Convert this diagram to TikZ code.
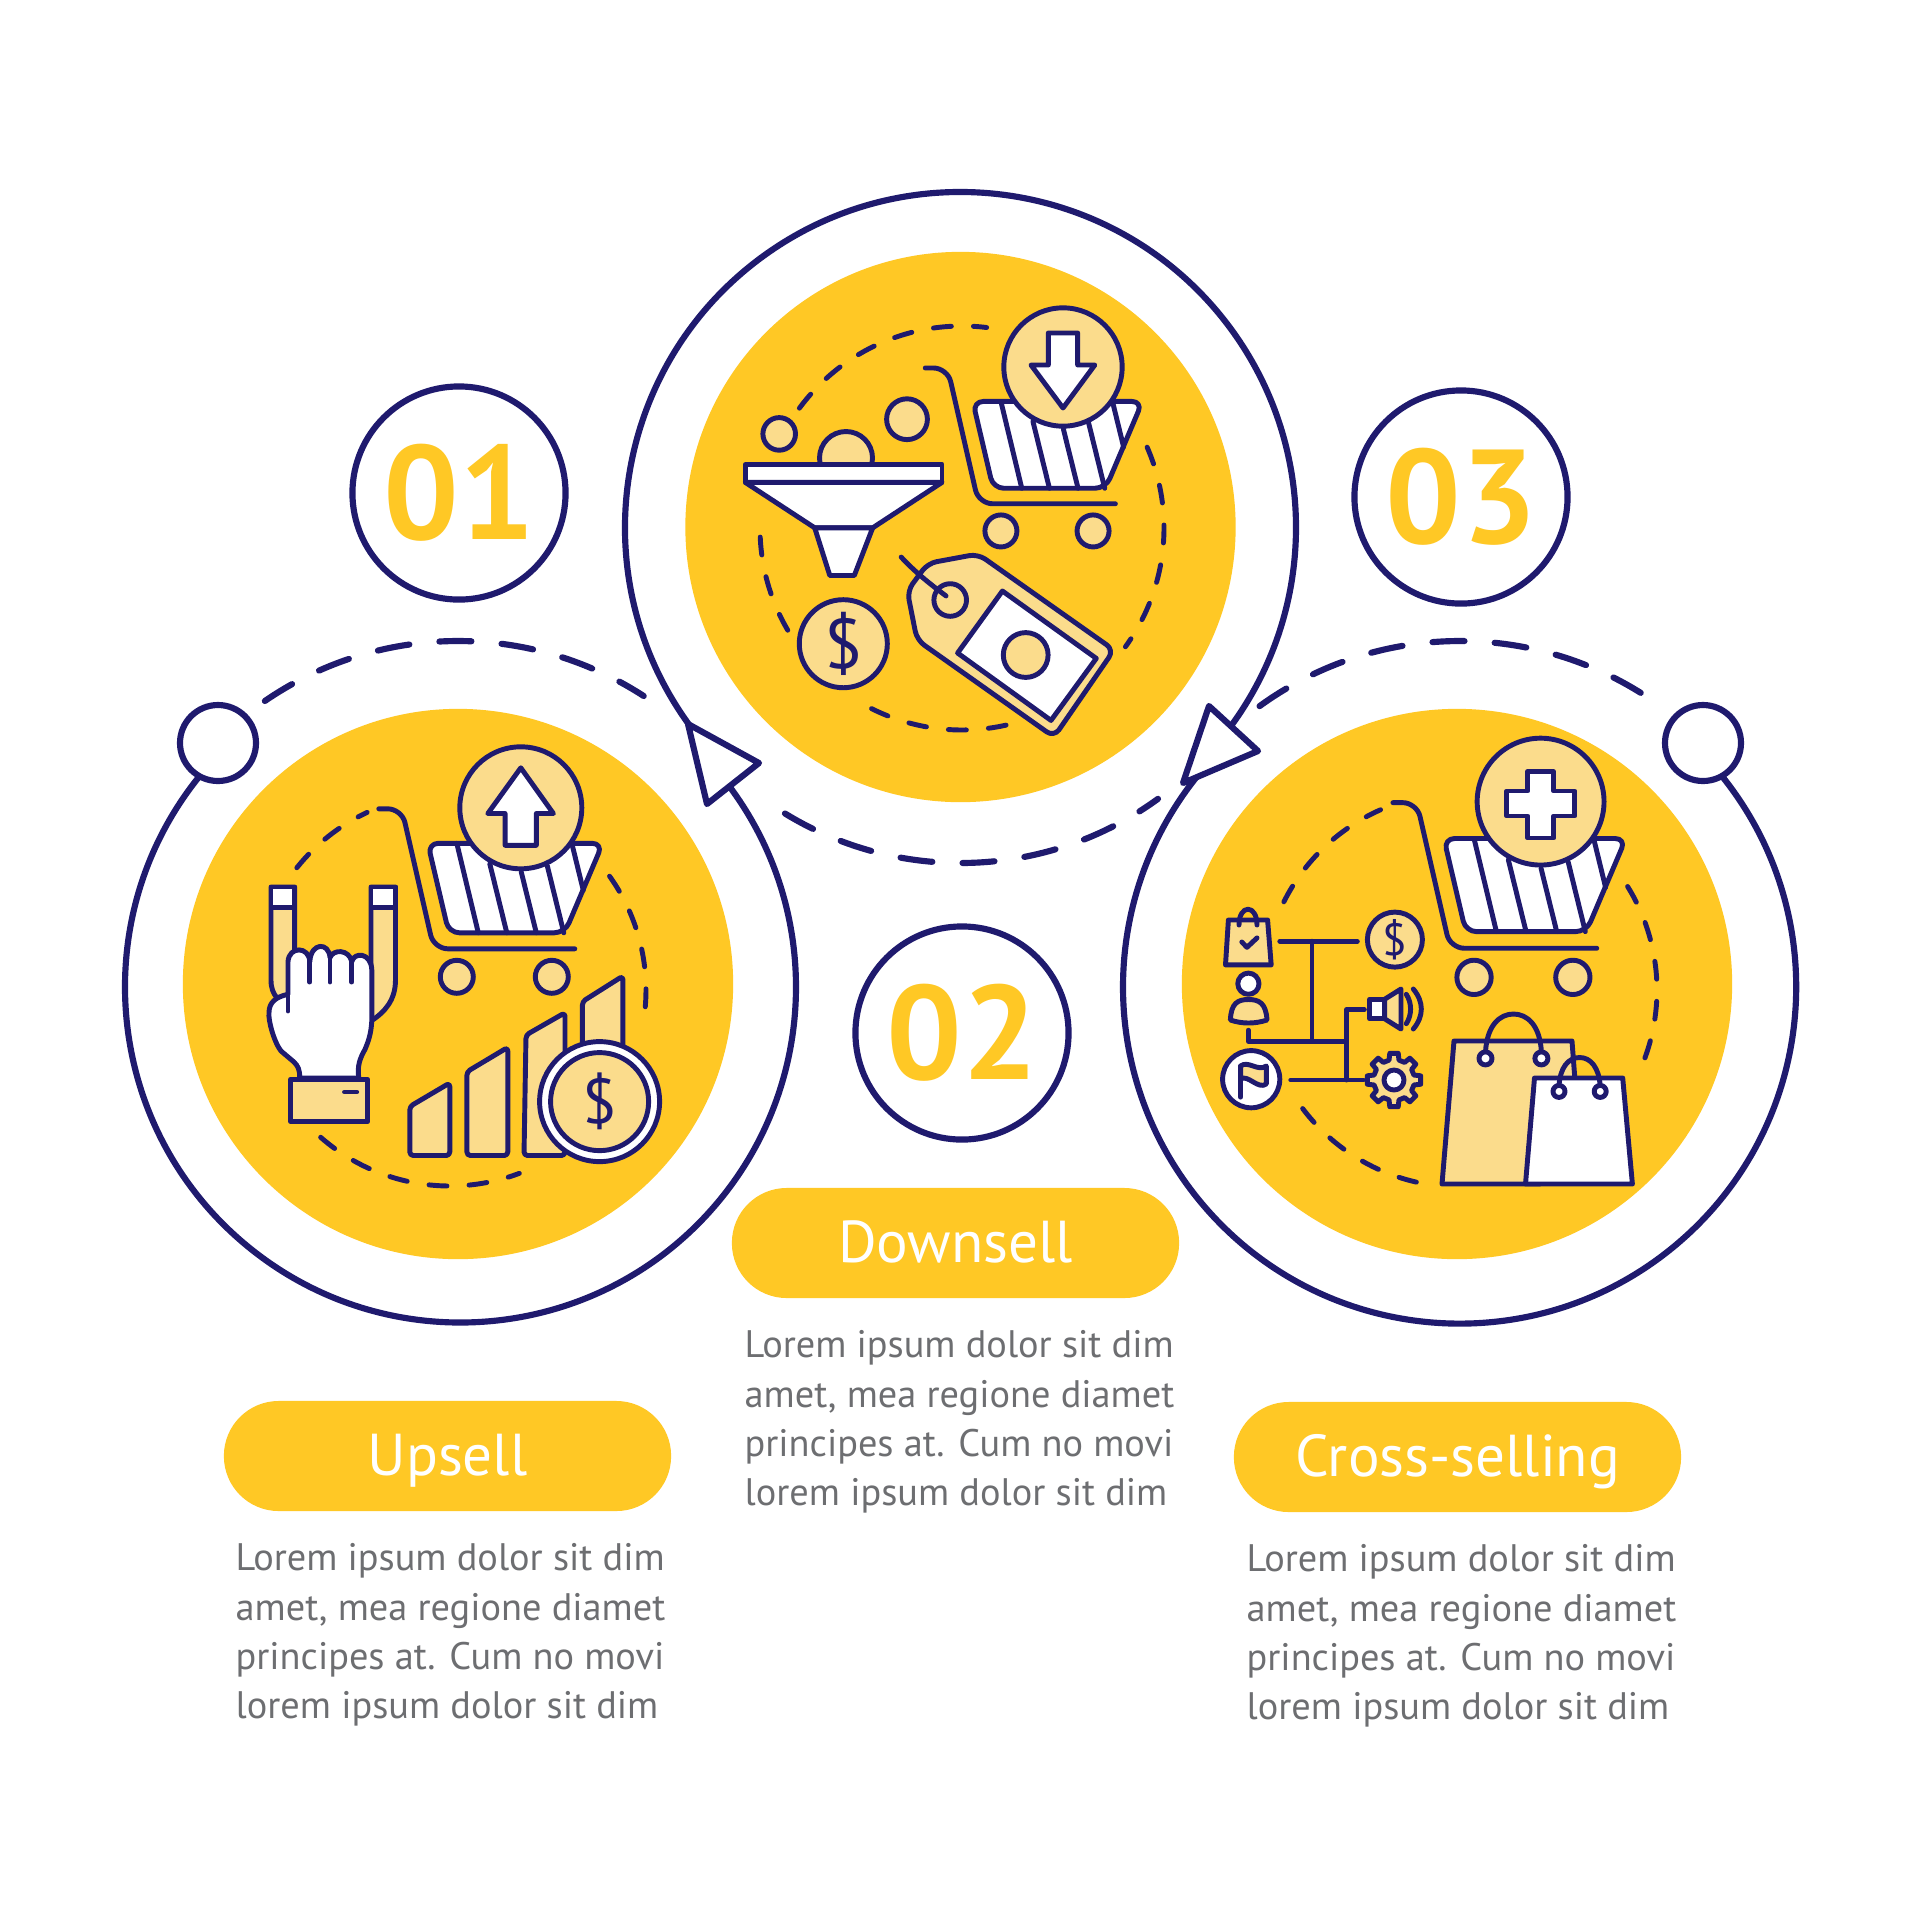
\documentclass[tikz,border=0pt]{standalone}
\usepackage{fontspec}
\setmainfont{PT Sans}
\definecolor{inkblue}{HTML}{1F1A6E}
\definecolor{sunyellow}{HTML}{FFC825}
\definecolor{paleyellow}{HTML}{FBDC8C}
\definecolor{bodygray}{HTML}{6D6E71}
\tikzset{
  ring/.style={draw=inkblue,line width=1.75pt,line cap=round,line join=round},
  ringdash/.style={ring,dash pattern=on 9.1pt off 8.6pt},
  ln/.style={draw=inkblue,line width=1.4pt,line cap=round,line join=round},
  lndash/.style={ln,dash pattern=on 5.1pt off 6.3pt},
  pale/.style={ln,fill=paleyellow},
  blank/.style={ln,fill=white},
  disk/.style={circle,fill=sunyellow,inner sep=0pt,minimum size=5.5cm},
  numring/.style={circle,draw=inkblue,fill=white,line width=1.75pt,inner sep=0pt,minimum size=2.13cm,
    text=sunyellow,font=\bfseries\fontsize{38}{38}\selectfont},
  pill/.style={rectangle,rounded corners=15.6pt,fill=sunyellow,minimum width=4.47cm,minimum height=1.1cm,
    inner sep=0pt,text=white,text height=10.8pt,text depth=0pt,font=\fontsize{16.8}{16.8}\selectfont},
  blurb/.style={anchor=north west,inner sep=0pt,align=left,text=bodygray,font=\fontsize{10.9}{14}\selectfont},
  coin/.style={circle,draw=inkblue,fill=paleyellow,line width=1.4pt,inner sep=0pt,text=inkblue},
}
\newcommand{\carticon}[3]{%
\begin{scope}[shift={(#1,#2)},scale=#3]
\draw[ln,rounded corners=4pt] (-142,1) -- (-119,1) -- (-87,141) -- (54,141);
\draw[blank,rounded corners=3pt] (-93,35.5) -- (-72,125) -- (44,125) -- (82,35.5) -- cycle;
\draw[ln] (-64,35.5) -- (-42.5,125) (-31,56) -- (-14,125) (0.4,64) -- (15.5,125) (26.5,58) -- (43,125) (51.5,37.5) -- (62.5,82.5);
\draw[pale] (-64,169) circle (16.5) (31,169) circle (16.5);
\draw[pale] (0,0) circle (61);
\end{scope}}
\begin{document}
\begin{tikzpicture}[x=0.01cm,y=-0.01cm]
\fill[white] (0,0) rectangle (1920,1920);
\useasboundingbox (0,0) rectangle (1920,1920);
% discs
\node[disk] (D1) at (458,984) {};
\node[disk] (D2) at (960.5,527) {};
\node[disk] (D3) at (1457,984) {};
% big rings
\draw[ring] (460.5,987) ++(220:335.5) arc[start angle=220,end angle=-38,radius=335.5];
\draw[ring] (960.5,527.5) ++(144:335.5) arc[start angle=144,end angle=396,radius=335.5];
\draw[ring] (1459.6,987) ++(-40:336.6) arc[start angle=-40,end angle=220,radius=336.6];
\draw[ringdash] (458,982) ++(-124.5:341) arc[start angle=-124.5,end angle=-57,radius=341];
\draw[ringdash] (960.5,527) ++(121.5:336) arc[start angle=121.5,end angle=54,radius=336];
\draw[ringdash] (1460,982) ++(234:341) arc[start angle=234,end angle=302,radius=341];
\draw[ring,fill=white] (688,724) -- (759,763) -- (707,804) -- cycle;
\draw[ring,fill=white] (1209,706) -- (1258,751) -- (1183,783) -- cycle;
\draw[ring,fill=white] (218,743) circle (38);
\draw[ring,fill=white] (1703,743) circle (38);
% numbers
\node[numring] (N1) at (459,493) {01};
\node[numring] (N2) at (962,1033) {02};
\node[numring] (N3) at (1461,497) {03};
% titles
\node[pill] (P1) at (447.5,1456) {Upsell};
\node[pill] (P2) at (955.5,1243) {Downsell};
\node[pill] (P3) at (1457.5,1457) {Cross-selling};
\node[blurb] (T1) at (235,1543) {Lorem ipsum dolor sit dim\\amet, mea regione diamet\\principes at. Cum no movi\\lorem ipsum dolor sit dim};
\node[blurb] (T2) at (744,1330) {Lorem ipsum dolor sit dim\\amet, mea regione diamet\\principes at. Cum no movi\\lorem ipsum dolor sit dim};
\node[blurb] (T3) at (1246,1544) {Lorem ipsum dolor sit dim\\amet, mea regione diamet\\principes at. Cum no movi\\lorem ipsum dolor sit dim};
% first icon
\draw[lndash] (450,990) ++(218.6:196) arc[start angle=218.6,end angle=245,radius=196];
\draw[lndash] (450,990) ++(-35.5:196) arc[start angle=-35.5,end angle=8.4,radius=196];
\draw[lndash] (450,990) ++(131.3:196) arc[start angle=131.3,end angle=69.3,radius=196];
\carticon{520.8}{807.8}{1}
\draw[blank] (520.8,767.8) -- (553.4,813.5) -- (536.3,813.5) -- (536.3,845.3) -- (505.1,845.3) -- (505.1,813.5) -- (487.8,813.5) -- cycle;
\draw[pale] (271,887) -- (271,980) .. controls (271,988) and (273,993) .. (277,998) -- (294.7,998) -- (294.7,887) -- cycle;
\draw[pale] (371,887) -- (395.5,887) -- (395.5,980) .. controls (395.5,1000) and (385,1012) .. (371,1021) -- cycle;
\draw[blank] (271,887) rectangle (294.7,907.8) (371,887) rectangle (395.5,907.8);
\draw[blank] (299.6,1078) .. controls (300,1070) and (298,1066) .. (294,1062) -- (281,1051) .. controls (274,1042) and (268,1020) .. (269,1012.7)
  .. controls (269,1003) and (275,997) .. (288,994.3) -- (288,961.6) .. controls (289,946) and (309,946) .. (309.8,961.6)
  .. controls (311,942) and (329,942) .. (330,957.6) .. controls (333,949) and (349,949) .. (351.8,961.6)
  .. controls (354,952) and (371,952) .. (371.8,969.8) -- (371.8,1020.8) .. controls (371,1035) and (368,1042) .. (365,1049.4)
  .. controls (360,1058) and (357,1066) .. (358.8,1078) -- cycle;
\draw[ln] (309.8,961.6) -- (309.8,982) (330,957.6) -- (330,982) (351.8,961.6) -- (351.8,982) (288,994.3) -- (288,1011);
\draw[pale] (290.6,1079.2) rectangle (367.8,1121.6);
\draw[ln] (344.5,1092) -- (356.7,1092);
\draw[pale,rounded corners=1pt] (409.8,1106.5) -- (449.8,1082.9) -- (449.8,1155.5) -- (409.8,1155.5) -- cycle;
\draw[pale,rounded corners=1pt] (466.9,1071.8) -- (507.8,1047.3) -- (507.8,1155.5) -- (466.9,1155.5) -- cycle;
\draw[pale,rounded corners=1pt] (526,1035) -- (565,1012.7) -- (565,1155.5) -- (524,1155.5) -- cycle;
\draw[pale,rounded corners=1pt] (582.4,1047) -- (582.4,1001.6) -- (622.9,976) -- (622.9,1047);
\draw[blank] (599.6,1101.6) circle (60);
\node[coin,minimum size=0.98cm,font=\fontsize{18}{18}\selectfont] (C1) at (599.6,1101.6) {\$};
% second icon
\draw[lndash] (962,528) ++(216.4:202) arc[start angle=216.4,end angle=277,radius=202];
\draw[lndash] (962,528) ++(-23.6:202) arc[start angle=-23.6,end angle=36,radius=202];
\draw[lndash] (962,528) ++(77.4:202) arc[start angle=77.4,end angle=121.5,radius=202];
\draw[lndash] (962,528) ++(149.6:202) arc[start angle=149.6,end angle=180.4,radius=202];
\carticon{1063}{367}{0.97}
\draw[blank] (1048.3,333) -- (1077.7,333) -- (1077.7,365) -- (1094.8,365) -- (1063,408) -- (1031,365) -- (1048.3,365) -- cycle;
\draw[pale] (779.2,433.9) circle (16.3);
\draw[pale] (907,419.2) circle (20.4);
\draw[pale] (846,458) circle (26.5);
\draw[blank] (745.3,464.5) rectangle (942,482.4);
\draw[blank] (745.3,482.4) -- (942,482.4) -- (872.7,527.8) -- (814.7,527.8) -- cycle;
\draw[blank] (814.7,527.8) -- (872.7,527.8) -- (854.3,575.5) -- (829.8,575.5) -- cycle;
\node[coin,minimum size=0.88cm,font=\fontsize{20}{20}\selectfont] (C2) at (843.3,643.7) {\$};
\draw[pale,rounded corners=2.5pt] (907.3,591) -- (927.8,563.3) -- (978,554) -- (1114,650) -- (1054,737) -- (917,640) -- cycle;
\draw[pale] (950.2,600) circle (16.3);
\draw[ln] (901.2,557.1) .. controls (915,572) and (930,584) .. (946,595.9);
\draw[blank] (1002.4,591) -- (1096.3,658.4) -- (1051,720.4) -- (957.6,653) -- cycle;
\draw[pale] (1025.7,655) circle (22.4);
% third icon
\draw[lndash] (1460,990) ++(206.6:197) arc[start angle=206.6,end angle=246.2,radius=197];
\draw[lndash] (1460,990) ++(-31.7:197) arc[start angle=-31.7,end angle=24,radius=197];
\draw[lndash] (1460,990) ++(143:197) arc[start angle=143,end angle=102,radius=197];
\carticon{1540.6}{801.6}{1.04}
\draw[blank] (1527.6,771.6) -- (1553.6,771.6) -- (1553.6,791) -- (1574.6,791) -- (1574.6,816) -- (1553.6,816) -- (1553.6,838) -- (1527.6,838) -- (1527.6,816) -- (1506.6,816) -- (1506.6,791) -- (1527.6,791) -- cycle;
\draw[pale] (1454,1041) -- (1572,1041) -- (1578,1120) -- (1540,1184) -- (1442,1184) -- cycle;
\draw[ln] (1485.5,1052) .. controls (1487,1025) and (1500,1014) .. (1513.5,1014) .. controls (1527,1014) and (1540,1025) .. (1541.4,1052);
\draw[blank] (1485.5,1058.4) circle (6.5) (1541.4,1058.4) circle (6.5);
\draw[blank] (1534.5,1078) -- (1622.7,1078) -- (1632.4,1184) -- (1525.5,1184) -- cycle;
\draw[ln] (1559,1086) .. controls (1560,1068) and (1568,1057.5) .. (1579.6,1057.5) .. controls (1591,1057.5) and (1599,1068) .. (1600.2,1086);
\draw[blank] (1559,1091.4) circle (6) (1600.2,1091.4) circle (6);
\draw[ln] (1279.8,941.2) -- (1357.3,941.2) (1312,941.2) -- (1312,1041.2);
\draw[ln] (1248.4,1030.2) -- (1248.4,1041.2) -- (1346,1041.2);
\draw[ln] (1364.3,1009.8) -- (1346.3,1009.8) -- (1346.3,1080);
\draw[ln] (1290.8,1080) -- (1363.5,1080);
\draw[pale] (1228.4,920) -- (1267.6,920) -- (1271.2,964.9) -- (1225.5,964.9) -- cycle;
\draw[ln] (1239,925) .. controls (1239,904) and (1257,904) .. (1257,925);
\draw[ln] (1241.8,942) -- (1247,947.3) -- (1257,937.9);
\draw[blank] (1248.4,983.7) circle (10.6);
\draw[pale] (1230.4,1020) .. controls (1231,1003) and (1238,999.5) .. (1248.4,999.5) .. controls (1259,999.5) and (1266,1003) .. (1267,1020) .. controls (1255,1024) and (1242,1024) .. (1230.4,1020) -- cycle;
\draw[blank] (1251.2,1079.2) circle (28.6);
\draw[pale] (1240.6,1066) .. controls (1248,1060) and (1258,1072) .. (1266.3,1066) -- (1266.3,1084) .. controls (1258,1090) and (1248,1074) .. (1240.6,1079) -- cycle;
\draw[ln] (1240.6,1066) -- (1240.6,1097.1);
\node[coin,minimum size=0.55cm,font=\fontsize{12.8}{12.8}\selectfont] (C3) at (1394.9,939.6) {\$};
\draw[blank] (1369.6,999.2) rectangle (1384.7,1018.8);
\draw[pale] (1384.7,999.2) -- (1401,989) -- (1401,1029) -- (1384.7,1018.8) -- cycle;
\draw[ln] (1406.3,994.3) .. controls (1412,1003) and (1412,1015) .. (1406.3,1023.7);
\draw[ln] (1413.3,989) .. controls (1424,1002) and (1424,1016) .. (1413.3,1029);
\begin{scope}[shift={(1394,1080)}]
\draw[pale] (-14:20.5) \foreach \a in {0,45,...,315} { -- (\a-14:20.5) -- (\a-9:27) -- (\a+9:27) -- (\a+14:20.5) } -- cycle;
\draw[blank] (0,0) circle (10);
\end{scope}
\end{tikzpicture}
\end{document}
